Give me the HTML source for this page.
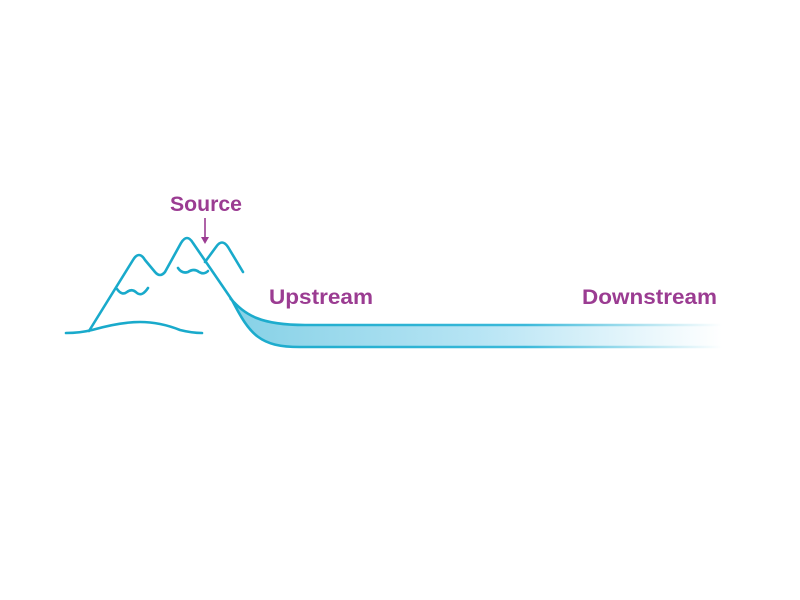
<!DOCTYPE html>
<html><head><meta charset="utf-8"><style>html,body{margin:0;padding:0;background:#fff}svg{display:block}</style></head>
<body>
<svg width="800" height="600" viewBox="0 0 800 600" xmlns="http://www.w3.org/2000/svg">
<defs>
<linearGradient id="f" x1="230" y1="0" x2="722" y2="0" gradientUnits="userSpaceOnUse">
<stop offset="0" stop-color="#86d1e6"/><stop offset="0.5" stop-color="#b6e4f4"/><stop offset="1" stop-color="#ffffff"/>
</linearGradient>
<linearGradient id="s" x1="230" y1="0" x2="722" y2="0" gradientUnits="userSpaceOnUse">
<stop offset="0" stop-color="#19aacb"/><stop offset="0.6" stop-color="#3bb9da"/><stop offset="1" stop-color="#ffffff"/>
</linearGradient>
</defs>
<path d="M230,298 C245,315 260,325 305,325 L722,325 L722,347 L300,347 C260,347 250,335 232,300 Z" fill="url(#f)"/>
<path d="M230,298 C245,315 260,325 305,325 L722,325" fill="none" stroke="url(#s)" stroke-width="2.6"/>
<path d="M232,300 C250,335 260,347 300,347 L722,347" fill="none" stroke="url(#s)" stroke-width="2.6"/>
<g fill="none" stroke="#19aacb" stroke-width="2.6" stroke-linecap="round" stroke-linejoin="round">
<path d="M89,331 L133,260 Q139,250 145,260 L155,272 Q160,278 165,272 L181,243 Q187,233 193,243 L232,300"/>
<path d="M205,262 L216,247 Q222,238 228,247 L243,272"/>
<path d="M117,289 Q122,296 127,292 Q132,288 137,293 Q142,297 148,288"/>
<path d="M178,268 Q182,274 188,272 Q194,268 199,272 Q204,275 208,271"/>
<path d="M66,333 Q80,333 92,330 Q120,322 140,322 Q160,322 180,330 Q192,333 202,333"/>
</g>
<g stroke="#9b3c92" fill="#9b3c92" stroke-width="1.6">
<line x1="205" y1="218" x2="205" y2="240"/>
<path d="M201,237 L205,244 L209,237 Z" stroke="none"/>
</g>
<g font-family="Liberation Sans, sans-serif" font-weight="bold" font-size="21" fill="#9b3c92">
<text x="170" y="211" textLength="72" lengthAdjust="spacingAndGlyphs">Source</text>
<text x="269" y="304" textLength="104" lengthAdjust="spacingAndGlyphs">Upstream</text>
<text x="582" y="304" textLength="135" lengthAdjust="spacingAndGlyphs">Downstream</text>
</g>
</svg>
</body></html>
